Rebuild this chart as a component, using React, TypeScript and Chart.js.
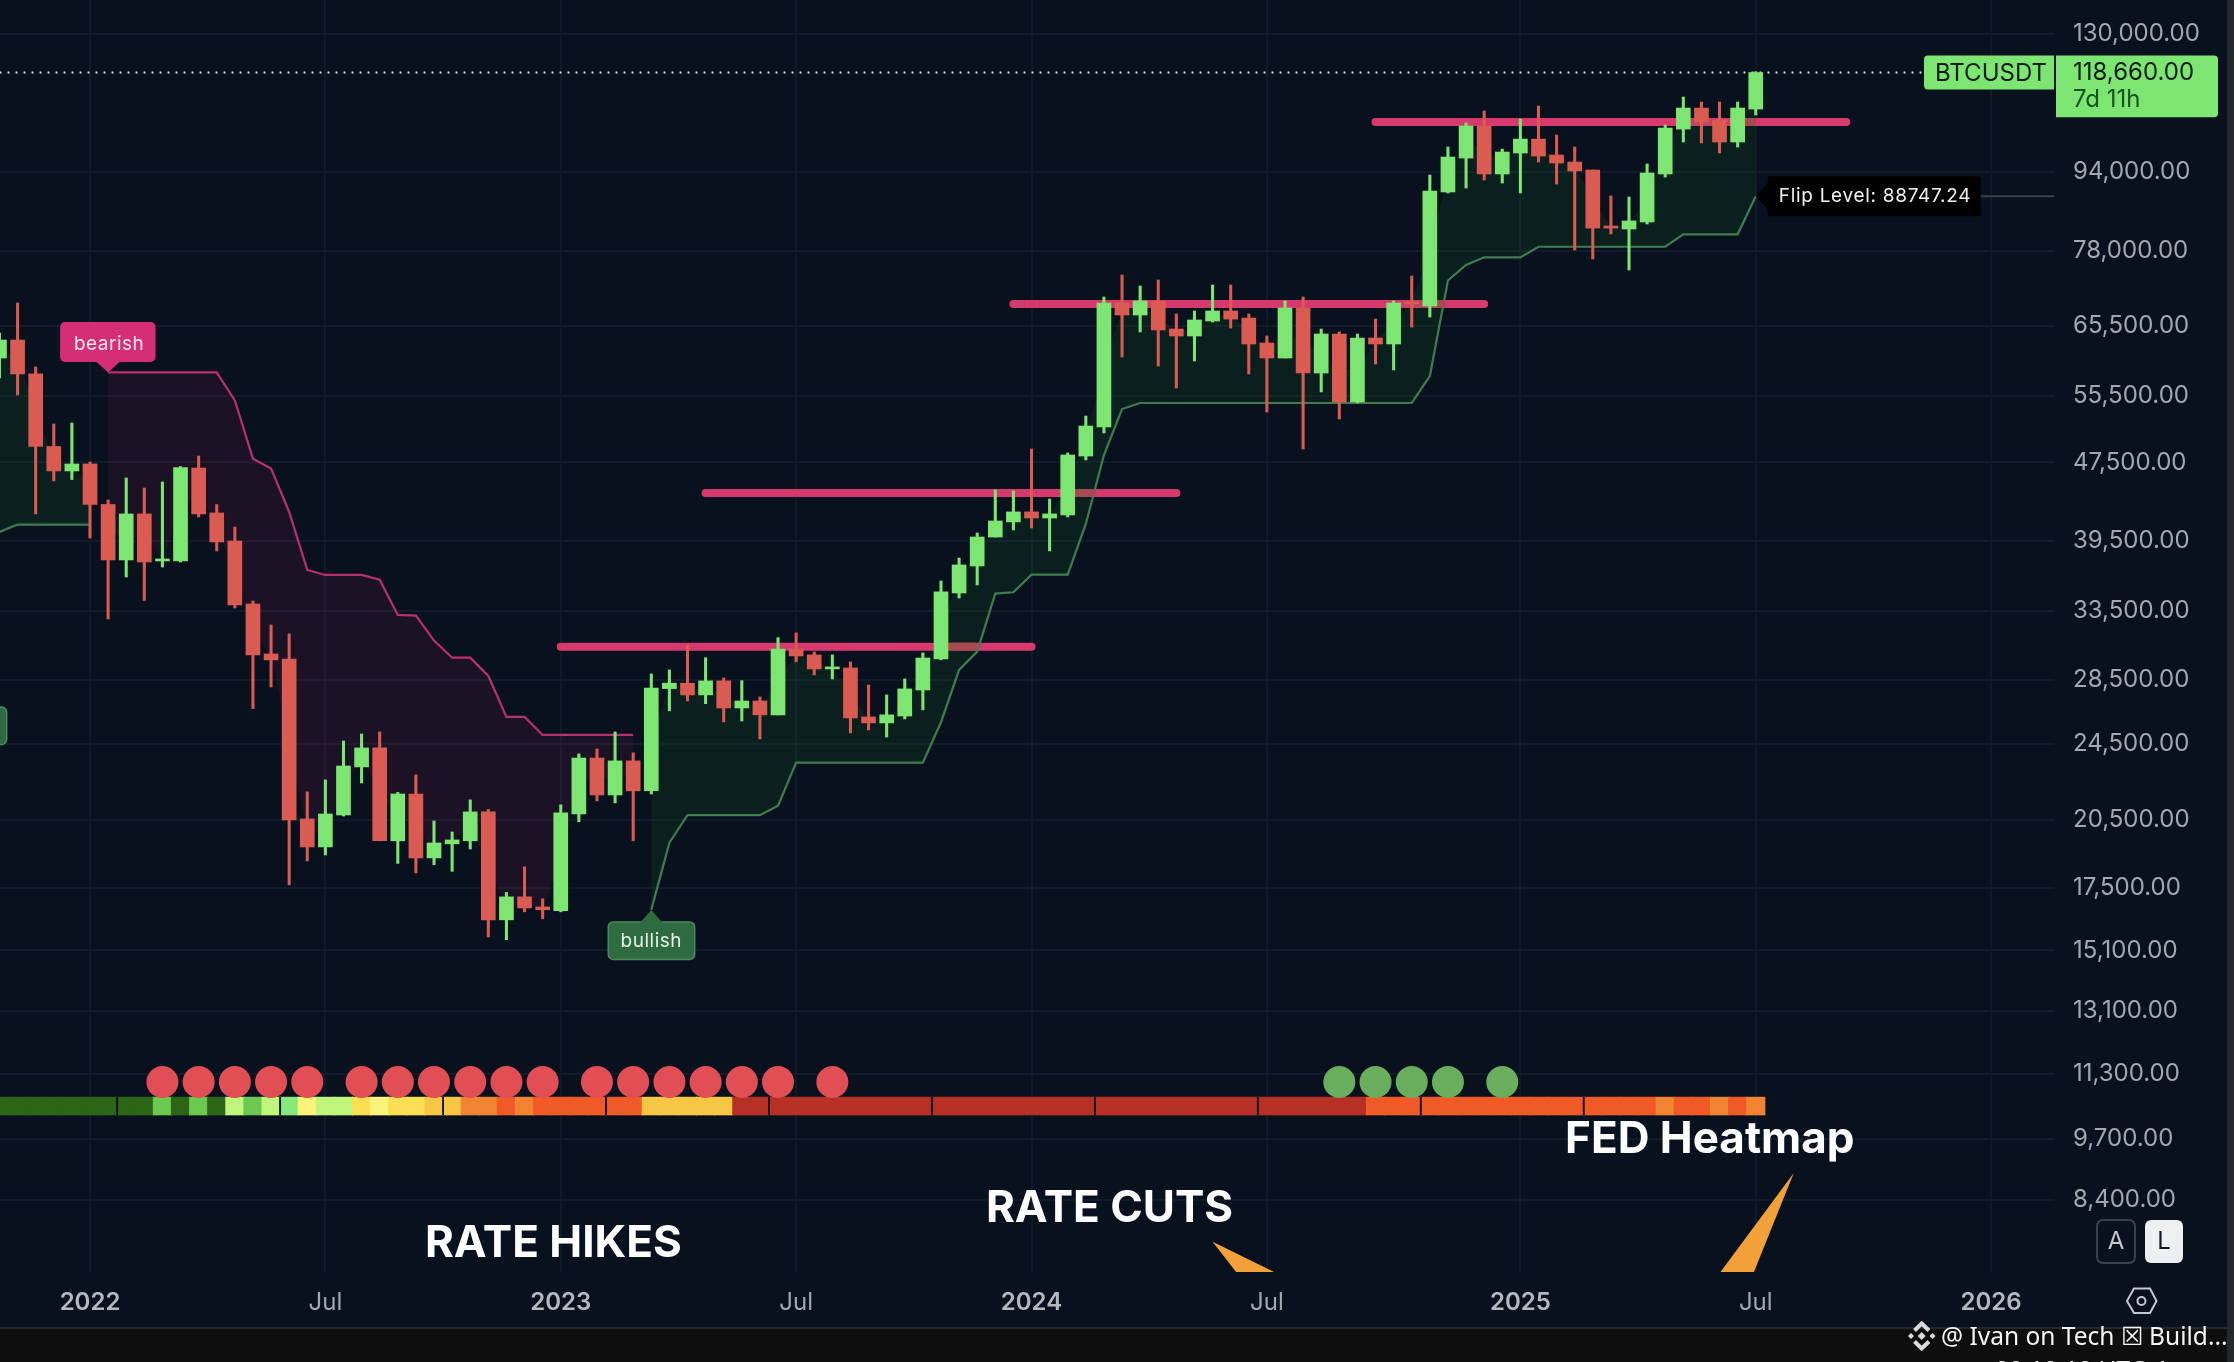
import React, { useEffect, useRef } from "react";
import { Chart, registerables } from "chart.js";

Chart.register(...registerables);

const firstBar = -5;
const opens = [60690,63310,58460,49300,46550,47320,43030,37770,42080,37680,37680,46870,42180,39490,34060,30290,29930,20560,19250,20750,23230,24290,19530,21800,18760,19390,19530,20900,16220,17120,16720,16570,20800,23720,21750,23560,21970,27920,28280,27510,28430,26680,27120,26250,30640,30220,29240,29310,26120,25760,26180,27830,29930,34950,37240,39860,41300,42280,41680,41980,48210,51610,69060,67140,69390,64960,63910,66200,67780,66660,62870,60690,68250,58590,64210,54740,63610,62720,69220,68570,89630,97060,104650,93500,98220,101490,97760,96170,94380,82740,82160,83530,93500,103900,109160,106140,100790,108900];
const highs = [64360,69060,59420,51980,52100,47540,43480,45790,44720,45360,47030,48210,43020,40810,34300,32420,31750,21910,22530,24690,25100,25220,21880,22800,20460,19940,21500,21020,17300,18370,17040,21250,23950,24230,25220,24010,28900,29170,30940,30020,28630,28450,27380,31470,31820,30430,30220,29730,28160,27510,28560,30360,35950,37940,40240,44520,44410,49010,43580,48560,52960,70040,73750,71870,72890,67300,67780,72040,72040,67300,63910,69390,70040,64960,64520,64210,66500,69390,73580,93270,99610,105390,108400,99130,106370,109680,102460,99610,94380,88780,88580,95720,104890,112020,110720,110720,110720,118900];
const lows = [57900,55640,42080,45470,45620,39770,32880,36290,34340,37150,37590,41780,38580,33740,26640,28030,17610,18630,18890,20700,22370,19530,18520,18110,18460,18180,19160,15580,15480,16530,16260,16530,20420,21450,21350,19530,21800,26500,27120,26950,25820,25880,24810,26250,29730,28830,28560,25160,25340,24920,26000,26560,29870,34540,35620,39860,40530,40710,38580,41780,47770,50890,60830,64520,59560,56560,60270,66050,65120,58460,53470,60690,49010,56040,52590,54610,59840,59010,65270,66820,89420,90460,92190,91540,89420,96170,91320,78210,76570,81210,74630,83140,92830,100790,100560,98220,99610,107390];
const closes = [63310,58460,49300,46550,47320,43030,37770,42080,37590,37850,46930,42080,39400,33980,30220,29870,20510,19250,20800,23280,24290,19530,21800,18760,19430,19570,20900,16220,17120,16680,16610,20850,23720,21750,23560,21960,27960,28280,27510,28430,26680,27120,26250,30640,30150,29240,29380,26060,25760,26250,27900,30000,35040,37330,39860,41390,42280,41680,42080,48330,51730,69060,67140,69390,64820,63910,66360,67780,66500,62720,60690,68250,58590,64210,54740,63610,62720,69060,68900,89840,97300,104650,93500,98450,101490,97530,95940,94160,82350,82350,83730,93720,104150,109160,105640,100790,109160,118660];

const trendBullEarlyStart = -5;
const trendBullEarly = [40336,41043,41043,41043,41043,41043];
const trendBearStart = 1;
const trendBear = [58675,58675,58675,58675,58675,58675,58675,54929,47917,46827,42276,36893,36461,36461,36461,36064,33192,33137,31250,30024,30024,28762,26122,26122,25043,25043,25043,25043,25043,25043];
const trendBullStart = 31;
const trendBull = [16605,19447,20739,20739,20739,20739,20739,21211,23466,23466,23466,23466,23466,23466,23466,23466,25801,29172,30453,34895,35011,36487,36487,36487,41101,48329,53835,54607,54607,54607,54607,54607,54607,54607,54607,54607,54607,54607,54607,54607,54607,54607,54607,58179,72808,75504,76877,76877,76877,78816,78816,78816,78816,78816,78816,78816,78816,81149,81149,81149,81149,88747.24];

const levelPrices = [30810, 44205, 68898, 105640];
const levelStarts = [26, 34, 51, 71];
const levelEnds = [52, 60, 77, 97];
const levelDimStarts = [47.5, 54.4, 74.4, 91.4];
const levelDimEnds = [48.9, 55.5, 74.9, 92];

const hikeBars = [4,6,8,10,12,15,17,19,21,23,25,28,30,32,34,36,38,41];
const cutBars = [69,71,73,75,78];
const dotLevel = 11083;

const heatPalette = ["#2c6516","#6cc950","#bff57a","#86ea7a","#fbf27a","#fadf55","#f6c644","#f08432","#ef5a27","#b73026"];
const heatLevels = [0,0,0,0,0,0,0,0,0,1,0,1,0,2,1,2,3,4,2,2,5,4,5,5,6,6,7,7,8,7,8,8,8,8,8,8,6,6,6,6,6,9,9,9,9,9,9,9,9,9,9,9,9,9,9,9,9,9,9,9,9,9,9,9,9,9,9,9,9,9,9,9,9,9,9,9,8,8,8,8,8,8,8,8,8,8,8,8,8,8,8,8,7,8,8,7,8,7];
const heatBandTop = 10697;
const heatBandBottom = 10257;
const heatDividers = [1.5,10.5,19.5,28.5,37.5,46.5,55.5,64.5,73.5,82.5];

const xTickBars = [0,13,26,39,52,65,79,92,105];
const xTickLabels = ["2022","Jul","2023","Jul","2024","Jul","2025","Jul","2026"];
const yTicks = [130000,94000,78000,65500,55500,47500,39500,33500,28500,24500,20500,17500,15100,13100,11300,9700,8400];

const lastPrice = 118660;
const flipLevel = 88747.24;

const arrowCutsBars = [62.0,63.3,65.4];
const arrowCutsPrices = [7617,7094,7094];
const arrowFedBars = [94.1,90.05,91.9];
const arrowFedPrices = [8950,7094,7094];

const BG = "#09111f";
const GREEN = "#7de673";
const RED = "#d95b51";
const barStep = 18.106;

const bars = opens.map((_, k) => firstBar + k);

function series(start: number, values: number[]) {
  return values.map((y, k) => ({ x: start + k, y }));
}
function midSeries(start: number, count: number) {
  const out: { x: number; y: number }[] = [];
  for (let k = 0; k < count; k++) {
    const b = start + k;
    const j = b - firstBar;
    out.push({ x: b, y: Math.sqrt(opens[j] * closes[j]) });
  }
  return out;
}

function tagBox(ctx: CanvasRenderingContext2D, x: number, y: number, w: number, h: number, r: any) {
  ctx.beginPath();
  ctx.roundRect(x, y, w, h, r);
}

const overlay = {
  id: "overlay",
  beforeDraw(chart: any) {
    const { ctx, width, height } = chart;
    ctx.save();
    ctx.fillStyle = BG;
    ctx.fillRect(0, 0, width, height);
    ctx.restore();
  },
  afterDatasetsDraw(chart: any) {
    const { ctx, chartArea, scales } = chart;
    const xs = scales.x;
    const ys = scales.y;
    ctx.save();
    ctx.beginPath();
    ctx.rect(chartArea.left, chartArea.top, chartArea.right - chartArea.left, chartArea.bottom - chartArea.top);
    ctx.clip();
    // orange arrows
    ctx.fillStyle = "#f2a03a";
    for (const [bs, ps] of [[arrowCutsBars, arrowCutsPrices], [arrowFedBars, arrowFedPrices]]) {
      ctx.beginPath();
      bs.forEach((b: number, k: number) => {
        const px = xs.getPixelForValue(b);
        const py = ys.getPixelForValue(ps[k]);
        if (k === 0) ctx.moveTo(px, py);
        else ctx.lineTo(px, py);
      });
      ctx.closePath();
      ctx.fill();
    }
    // annotations
    ctx.fillStyle = "#ffffff";
    ctx.textBaseline = "alphabetic";
    ctx.textAlign = "left";
    ctx.font = "700 44px Inter";
    ctx.fillText("RATE HIKES", xs.getPixelForValue(18.5), ys.getPixelForValue(7348));
    ctx.fillText("RATE CUTS", xs.getPixelForValue(49.48), ys.getPixelForValue(7977));
    ctx.fillText("FED Heatmap", xs.getPixelForValue(81.47), ys.getPixelForValue(9380));

    // bearish tag
    const bearX = xs.getPixelForValue(trendBearStart);
    const bearY = ys.getPixelForValue(trendBear[0]);
    ctx.fillStyle = "#d42f74";
    tagBox(ctx, bearX - 48, bearY - 50.4, 95.5, 40, 5);
    ctx.fill();
    ctx.beginPath();
    ctx.moveTo(bearX - 12, bearY - 11);
    ctx.lineTo(bearX, bearY);
    ctx.lineTo(bearX + 12, bearY - 11);
    ctx.closePath();
    ctx.fill();
    ctx.fillStyle = "#f6e6ee";
    ctx.font = "400 19px Inter";
    ctx.textAlign = "center";
    ctx.textBaseline = "middle";
    (ctx as any).letterSpacing = "0.5px";
    ctx.fillText("bearish", bearX + 1, bearY - 28);

    // bullish tags (the first one sits mostly off the left edge)
    const bullTags = [
      { bar: -7, price: 27508 },
      { bar: trendBullStart, price: trendBull[0] },
    ];
    for (const t of bullTags) {
      const tx = xs.getPixelForValue(t.bar);
      const ty = ys.getPixelForValue(t.price);
      ctx.fillStyle = "#2f6b40";
      ctx.strokeStyle = "#4a8b5b";
      ctx.lineWidth = 1.5;
      tagBox(ctx, tx - 43, ty + 12, 86.4, 37.6, 5);
      ctx.fill();
      ctx.stroke();
      ctx.beginPath();
      ctx.moveTo(tx - 11.5, ty + 13);
      ctx.lineTo(tx, ty);
      ctx.lineTo(tx + 11.5, ty + 13);
      ctx.closePath();
      ctx.fill();
      ctx.fillStyle = "#e8f2e8";
      ctx.fillText("bullish", tx, ty + 31);
    }
    (ctx as any).letterSpacing = "0px";

    // flip level tag
    const fx = xs.getPixelForValue(92);
    const fy = ys.getPixelForValue(flipLevel);
    ctx.fillStyle = "#000000";
    tagBox(ctx, fx + 12, fy - 20, 213, 40, 3);
    ctx.fill();
    ctx.beginPath();
    ctx.moveTo(fx, fy);
    ctx.lineTo(fx + 13, fy - 14);
    ctx.lineTo(fx + 13, fy + 14);
    ctx.closePath();
    ctx.fill();
    ctx.fillStyle = "#f2f2f2";
    ctx.font = "400 19px Inter";
    ctx.textAlign = "left";
    (ctx as any).letterSpacing = "0.7px";
    ctx.fillText("Flip Level: 88747.24", fx + 23, fy);
    (ctx as any).letterSpacing = "0px";
    ctx.restore();
  },
  afterDraw(chart: any) {
    const { ctx, width, scales } = chart;
    const py = scales.y.getPixelForValue(lastPrice);
    ctx.save();
    // bottom strip and right edge
    ctx.fillStyle = "#0e0e0f";
    ctx.fillRect(0, 1329, width, 33);
    ctx.fillStyle = "#26272a";
    ctx.fillRect(0, 1327, width, 2);
    ctx.fillRect(2227, 0, 7, 1362);

    // symbol tag
    ctx.fillStyle = GREEN;
    tagBox(ctx, 1924, py - 17, 130, 34, [4, 0, 0, 4]);
    ctx.fill();
    tagBox(ctx, 2056, py - 17, 162, 61.7, [0, 4, 4, 0]);
    ctx.fill();
    ctx.fillStyle = "#0b1b12";
    ctx.font = "400 24px Inter";
    ctx.textBaseline = "middle";
    ctx.textAlign = "left";
    ctx.fillText("BTCUSDT", 1935, py + 1);
    ctx.fillText("118,660.00", 2073, py);
    ctx.fillStyle = "#15501f";
    ctx.fillText("7d 11h", 2073, py + 27);

    // A / L buttons
    ctx.strokeStyle = "#3a414b";
    ctx.lineWidth = 2;
    tagBox(ctx, 2097, 1220, 38, 43, 6);
    ctx.stroke();
    ctx.fillStyle = "#eef0f2";
    tagBox(ctx, 2145, 1220, 38, 43, 6);
    ctx.fill();
    ctx.font = "400 24px Inter";
    ctx.textAlign = "center";
    ctx.fillStyle = "#c4c8ce";
    ctx.fillText("A", 2116, 1242);
    ctx.fillStyle = "#131a24";
    ctx.fillText("L", 2164, 1242);

    // settings hexagon
    ctx.strokeStyle = "#c4c8ce";
    ctx.lineWidth = 2;
    ctx.beginPath();
    ctx.moveTo(2127, 1301);
    ctx.lineTo(2134, 1288.5);
    ctx.lineTo(2150, 1288.5);
    ctx.lineTo(2156.5, 1301);
    ctx.lineTo(2150, 1313);
    ctx.lineTo(2134, 1313);
    ctx.closePath();
    ctx.stroke();
    ctx.beginPath();
    ctx.arc(2141.5, 1301, 4, 0, Math.PI * 2);
    ctx.stroke();

    // exchange logo
    ctx.fillStyle = "#d8dadc";
    const logo = [[1921.7, 1336, 4], [1911, 1336, 3], [1932.5, 1336, 3]];
    for (const [lx, ly, s] of logo) {
      ctx.beginPath();
      ctx.moveTo(lx - s, ly);
      ctx.lineTo(lx, ly - s);
      ctx.lineTo(lx + s, ly);
      ctx.lineTo(lx, ly + s);
      ctx.closePath();
      ctx.fill();
    }
    ctx.strokeStyle = "#d8dadc";
    ctx.lineWidth = 4;
    ctx.beginPath();
    ctx.moveTo(1914.5, 1330.5);
    ctx.lineTo(1921.7, 1323.5);
    ctx.lineTo(1929, 1330.5);
    ctx.moveTo(1914.5, 1341.5);
    ctx.lineTo(1921.7, 1348.5);
    ctx.lineTo(1929, 1341.5);
    ctx.stroke();

    // watermark
    ctx.fillStyle = "#f4f4f4";
    ctx.textAlign = "left";
    ctx.font = "400 24.5px 'Noto Sans'";
    ctx.textBaseline = "alphabetic";
    ctx.fillText("@ Ivan on Tech ☒ Build...", 1941, 1345);
    ctx.fillText("00:10:10 UTC-4", 1995, 1379);
    ctx.restore();
  },
};

export default function App() {
  const ref = useRef<HTMLCanvasElement | null>(null);

  useEffect(() => {
    if (!ref.current) return;
    const datasets: any[] = [];
    const regimes = [
      { start: trendBullEarlyStart, values: trendBullEarly, line: "#3f7d4e", fill: "rgba(40,130,30,0.13)" },
      { start: trendBearStart, values: trendBear, line: "#b8316a", fill: "rgba(220,30,110,0.09)" },
      { start: trendBullStart, values: trendBull, line: "#3f7d4e", fill: "rgba(40,130,30,0.13)" },
    ];
    regimes.forEach((r) => {
      const midIndex = datasets.length;
      datasets.push({
        type: "line",
        data: midSeries(r.start, r.values.length),
        borderWidth: 0,
        borderColor: "rgba(0,0,0,0)",
        pointRadius: 0,
        fill: false,
        order: 8.5,
      });
      datasets.push({
        type: "line",
        data: series(r.start, r.values),
        borderColor: r.line,
        borderWidth: 2.2,
        pointRadius: 0,
        tension: 0,
        fill: { target: midIndex },
        backgroundColor: r.fill,
        order: 8,
      });
    });
    levelPrices.forEach((p, k) => {
      datasets.push({
        type: "line",
        data: [{ x: levelStarts[k], y: p }, { x: levelEnds[k], y: p }],
        borderColor: "#d63a6d",
        borderWidth: 8,
        borderCapStyle: "round",
        pointRadius: 0,
        fill: false,
        order: 9,
      });
      datasets.push({
        type: "line",
        data: [{ x: levelDimStarts[k], y: p }, { x: levelDimEnds[k], y: p }],
        borderColor: "#a64a50",
        borderWidth: 8,
        pointRadius: 0,
        fill: false,
        order: 7,
      });
    });
    datasets.push({
      type: "bar",
      data: bars.map((x) => ({ x, y: [heatBandBottom, heatBandTop] })),
      backgroundColor: heatLevels.map((l) => heatPalette[l]),
      barThickness: barStep + 0.4,
      grouped: false,
      order: 6,
    });
    datasets.push({
      type: "bar",
      data: heatDividers.map((x) => ({ x, y: [heatBandBottom, heatBandTop] })),
      backgroundColor: "#0a0c12",
      barThickness: 1.2,
      grouped: false,
      order: 5,
    });
    datasets.push({
      type: "line",
      data: hikeBars.map((x) => ({ x, y: dotLevel })),
      showLine: false,
      pointRadius: 16,
      pointBorderWidth: 0,
      pointBackgroundColor: "#e14f55",
      order: 4,
    });
    datasets.push({
      type: "line",
      data: cutBars.map((x) => ({ x, y: dotLevel })),
      showLine: false,
      pointRadius: 16,
      pointBorderWidth: 0,
      pointBackgroundColor: "#69ae5d",
      order: 4,
    });
    datasets.push({
      type: "line",
      data: [{ x: 92, y: flipLevel }, { x: 109, y: flipLevel }],
      borderColor: "#3a414b",
      borderWidth: 2,
      pointRadius: 0,
      order: 3.5,
    });
    datasets.push({
      type: "line",
      data: [{ x: -5, y: lastPrice }, { x: 109, y: lastPrice }],
      borderColor: "#cdeec8",
      borderWidth: 2,
      borderDash: [2, 6],
      pointRadius: 0,
      order: 3,
    });
    const colors = bars.map((_, k) => (closes[k] >= opens[k] ? GREEN : RED));
    datasets.push({
      type: "bar",
      data: bars.map((x, k) => ({ x, y: [lows[k], highs[k]] })),
      backgroundColor: colors,
      barThickness: 2.4,
      grouped: false,
      order: 2,
    });
    datasets.push({
      type: "bar",
      data: bars.map((x, k) => ({ x, y: [Math.min(opens[k], closes[k]), Math.max(opens[k], closes[k])] })),
      backgroundColor: colors,
      barThickness: 14,
      minBarLength: 2,
      grouped: false,
      order: 1,
    });

    const isYear = (s: string) => /^\d{4}$/.test(s);
    const chart = new Chart(ref.current, {
      type: "bar",
      data: { datasets },
      plugins: [overlay as any],
      options: {
        animation: false,
        responsive: false,
        devicePixelRatio: 1,
        events: [],
        layout: { padding: 0, autoPadding: false },
        plugins: { legend: { display: false }, tooltip: { enabled: false } },
        scales: {
          x: {
            type: "linear",
            offset: false,
            min: -90 / barStep,
            max: (2054 - 90) / barStep,
            border: { display: false },
            grid: { color: "#0f1a2a", lineWidth: 2, offset: false, drawTicks: false },
            afterBuildTicks: (axis: any) => {
              axis.ticks = xTickBars.map((value) => ({ value }));
            },
            afterFit: (axis: any) => {
              axis.height = 90;
              axis.paddingLeft = 0;
              axis.paddingRight = 0;
            },
            ticks: {
              autoSkip: false,
              maxRotation: 0,
              padding: 16,
              callback: (v: any) => xTickLabels[xTickBars.indexOf(Number(v))] ?? "",
              color: (c: any) => (isYear(String(c.tick?.label)) ? "#b4b8bf" : "#a3a8af"),
              font: (c: any) =>
                isYear(String(c.tick?.label))
                  ? { family: "Inter", size: 24, weight: "600" }
                  : { family: "Inter", size: 24, weight: "400" },
            },
          },
          y: {
            type: "logarithmic",
            position: "right",
            bounds: "data",
            min: 7094,
            max: 140690,
            beginAtZero: false,
            border: { display: false },
            grid: { color: "#0f1a2a", lineWidth: 2, drawTicks: false },
            afterBuildTicks: (axis: any) => {
              axis.ticks = yTicks.map((value) => ({ value }));
            },
            afterFit: (axis: any) => {
              axis.width = 180;
              axis.paddingTop = 0;
              axis.paddingBottom = 0;
            },
            ticks: {
              autoSkip: false,
              padding: 19,
              color: "#a3a8af",
              font: { family: "Inter", size: 24, weight: "400" },
              callback: (v: any) => Number(v).toLocaleString("en-US", { minimumFractionDigits: 2, maximumFractionDigits: 2 }),
            },
          },
        },
      } as any,
    });
    return () => chart.destroy();
  }, []);

  return (
    <div style={{ position: "fixed", left: 0, top: 0, width: 2234, height: 1362, overflow: "hidden", background: BG }}>
      <canvas ref={ref} width={2234} height={1362} style={{ display: "block" }} />
    </div>
  );
}
